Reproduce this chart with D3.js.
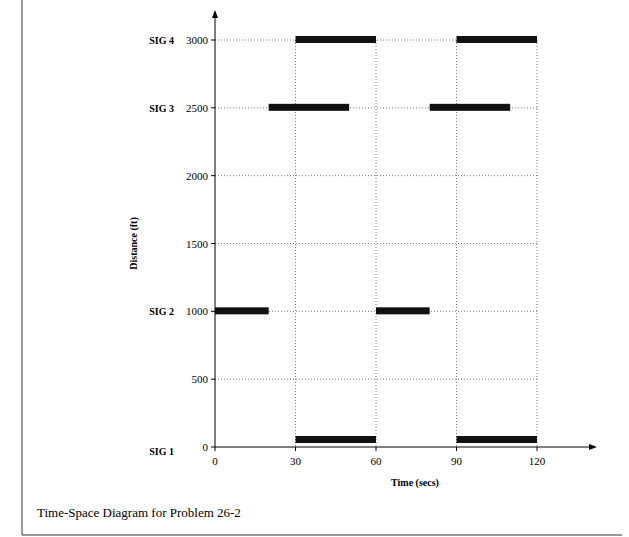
<!DOCTYPE html>
<html><head><meta charset="utf-8">
<script src="https://cdn.jsdelivr.net/npm/d3@7"></script>
<style>body{margin:0;background:#fff}text{font-family:"Liberation Serif","DejaVu Serif",serif}</style>
</head><body><div id="chart"></div>
<script>
var xTicks = [0, 30, 60, 90, 120];
var yTicks = [0, 500, 1000, 1500, 2000, 2500, 3000];
var signals = ["SIG 1", "SIG 2", "SIG 3", "SIG 4"];
var signalDist = [0, 1000, 2500, 3000];
// red intervals per signal [start, end] in seconds
var redPhases = [
    [[30, 60], [90, 120]],
    [[0, 20], [60, 80]],
    [[20, 50], [80, 110]],
    [[30, 60], [90, 120]]
];

var width = 629, height = 537;
var svg = d3.select('#chart').append('svg').attr('width', width).attr('height', height);

var x = d3.scaleLinear().domain([0, 120]).range([215, 537]);
var y = d3.scaleLinear().domain([0, 3000]).range([447, 40]);

// frame
svg.append('line').attr('x1', 22).attr('x2', 22).attr('y1', 0).attr('y2', 535).style('stroke', '#333');
svg.append('line').attr('x1', 22).attr('x2', 622).attr('y1', 535).attr('y2', 535).style('stroke', '#333');

// gridlines
svg.selectAll('.hg').data(yTicks.slice(1)).enter().append('line')
    .attr('x1', x(0)).attr('x2', x(120)).attr('y1', function (d) { return y(d); }).attr('y2', function (d) { return y(d); })
    .style('stroke', '#555').style('stroke-dasharray', '1,2').style('stroke-width', 0.8);
svg.selectAll('.vg').data(xTicks.slice(1)).enter().append('line')
    .attr('x1', function (d) { return x(d); }).attr('x2', function (d) { return x(d); }).attr('y1', y(3000)).attr('y2', y(0))
    .style('stroke', '#555').style('stroke-dasharray', '1,2').style('stroke-width', 0.8);

// axes
svg.append('line').attr('x1', x(0)).attr('x2', 592).attr('y1', y(0)).attr('y2', y(0)).style('stroke', '#000');
svg.append('path').attr('d', 'M597,' + y(0) + 'l-8,-3l0,6z').style('fill', '#000');
svg.append('line').attr('x1', x(0)).attr('x2', x(0)).attr('y1', y(0)).attr('y2', 16).style('stroke', '#000');
svg.append('path').attr('d', 'M' + x(0) + ',10l-3,8l6,0z').style('fill', '#000');

svg.selectAll('.xt').data(xTicks).enter().append('line')
    .attr('x1', function (d) { return x(d); }).attr('x2', function (d) { return x(d); })
    .attr('y1', y(0)).attr('y2', y(0) + 4).style('stroke', '#000');
svg.selectAll('.xl').data(xTicks).enter().append('text')
    .attr('x', function (d) { return x(d); }).attr('y', y(0) + 18)
    .attr('text-anchor', 'middle').style('font-size', '11px').text(function (d) { return d; });
svg.selectAll('.yt').data(yTicks).enter().append('line')
    .attr('x1', x(0) - 4).attr('x2', x(0)).attr('y1', function (d) { return y(d); }).attr('y2', function (d) { return y(d); })
    .style('stroke', '#000');
svg.selectAll('.yl').data(yTicks).enter().append('text')
    .attr('x', x(0) - 7).attr('y', function (d) { return y(d) + 4; })
    .attr('text-anchor', 'end').style('font-size', '11px').text(function (d) { return d; });

svg.selectAll('.sig').data(signals).enter().append('text')
    .attr('x', 174).attr('y', function (d, i) { return y(signalDist[i]) + 4 + (i === 0 ? 4 : 0); })
    .attr('text-anchor', 'end').style('font-size', '10px').style('font-weight', 'bold').text(function (d) { return d; });

// red phase bars
redPhases.forEach(function (ph, i) {
    svg.selectAll('.b' + i).data(ph).enter().append('rect')
        .attr('x', function (d) { return x(d[0]); })
        .attr('width', function (d) { return x(d[1]) - x(d[0]); })
        .attr('y', y(signalDist[i]) - 4 - (i === 0 ? 7 : 0))
        .attr('height', 7).style('fill', '#111');
});

svg.append('text').attr('x', 415).attr('y', 486).attr('text-anchor', 'middle')
    .style('font-size', '10px').style('font-weight', 'bold').text('Time (secs)');
svg.append('text').attr('transform', 'translate(137,' + y(1500) + ') rotate(-90)').attr('text-anchor', 'middle')
    .style('font-size', '10px').style('font-weight', 'bold').text('Distance (ft)');
svg.append('text').attr('x', 37).attr('y', 517).style('font-size', '13px').text('Time-Space Diagram for Problem 26-2');
</script></body></html>
